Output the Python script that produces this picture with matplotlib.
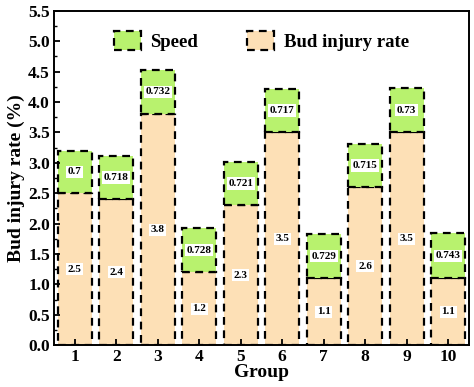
import matplotlib
matplotlib.use("Agg")
import matplotlib.pyplot as plt
import numpy as np

# Values
groups = [1, 2, 3, 4, 5, 6, 7, 8, 9, 10]
bud_injury = [2.5, 2.4, 3.8, 1.2, 2.3, 3.5, 1.1, 2.6, 3.5, 1.1]
speed = [0.7, 0.718, 0.732, 0.728, 0.721, 0.717, 0.729, 0.715, 0.73, 0.743]

plt.rcParams['font.family'] = ['Liberation Serif', 'DejaVu Serif']
plt.rcParams['font.weight'] = 'bold'

fig = plt.figure(figsize=(4.74, 3.87), dpi=100)
ax = fig.add_axes([0.114, 0.108, 0.875, 0.864])

x = np.array(groups)
width = 0.82
dash = (0, (3.5, 2.5))
b1 = ax.bar(x, bud_injury, width, color='#fde0b6', edgecolor='black',
            linewidth=1.6, linestyle=dash, label='Bud injury rate')
b2 = ax.bar(x, speed, width, bottom=bud_injury, color='#b8f26e', edgecolor='black',
            linewidth=1.6, linestyle=dash, label='Speed')

box = dict(boxstyle='square,pad=0.15', facecolor='white', edgecolor='none')
for xi, b, s in zip(x, bud_injury, speed):
    ax.text(xi, b / 2, f"{b:g}", ha='center', va='center', fontsize=8,
            fontweight='bold', bbox=box)
    ax.text(xi, b + s / 2, f"{s:g}", ha='center', va='center', fontsize=8,
            fontweight='bold', bbox=box)

ax.set_xlim(0.5, 10.5)
ax.set_ylim(0, 5.5)
ax.set_xticks(x)
ax.set_xticklabels([str(g) for g in groups])
ax.set_yticks(np.arange(0, 5.51, 0.5))
ax.set_yticklabels([f"{v:.1f}" for v in np.arange(0, 5.51, 0.5)])
ax.yaxis.set_minor_locator(matplotlib.ticker.MultipleLocator(0.25))
ax.tick_params(axis='both', which='major', labelsize=12.5, width=1.3, length=4,
               direction='in', pad=3)
ax.tick_params(axis='y', which='minor', width=1.0, length=2, direction='in')
for lbl in ax.get_xticklabels() + ax.get_yticklabels():
    lbl.set_fontweight('bold')
for spine in ax.spines.values():
    spine.set_linewidth(1.4)

ax.set_xlabel('Group', fontsize=14, fontweight='bold', labelpad=-1)
ax.set_ylabel('Bud injury rate (%)', fontsize=14, fontweight='bold', labelpad=2)

leg = ax.legend(handles=[b2, b1], loc='upper center', ncol=2, frameon=False,
                prop={'weight': 'bold', 'size': 13.5},
                bbox_to_anchor=(0.5, 0.99), handlelength=1.45, handleheight=1.2,
                columnspacing=2.6, handletextpad=0.5)

fig.savefig('out.png', dpi=100)
